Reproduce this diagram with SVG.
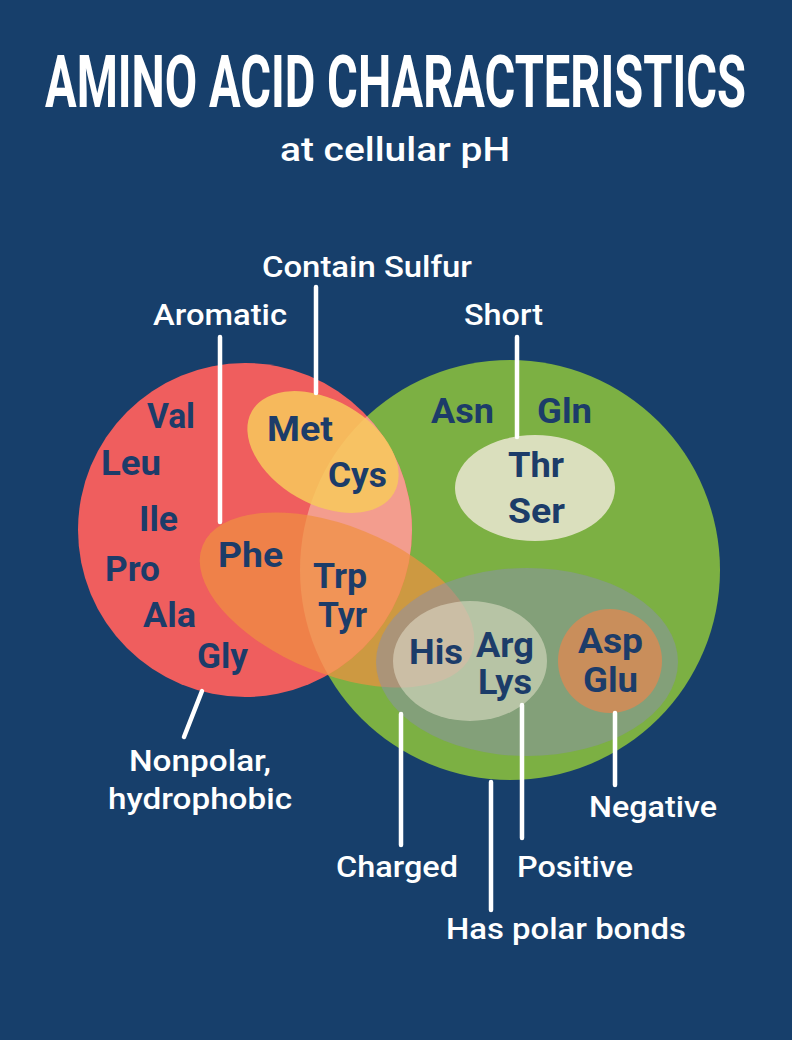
<svg xmlns="http://www.w3.org/2000/svg" width="792" height="1040" viewBox="0 0 792 1040">
<style>
.aa{font-family:Roboto,"Liberation Sans",sans-serif;font-weight:700;font-size:35px;fill:#1c3c69}
.lbl{font-family:Roboto,"Liberation Sans",sans-serif;font-weight:500;font-size:29px;fill:#ffffff}
.ttl{font-family:Roboto,"Liberation Sans",sans-serif;font-weight:700;font-size:73px;fill:#ffffff}
.sub{font-family:Roboto,"Liberation Sans",sans-serif;font-weight:500;font-size:34px;fill:#ffffff}
.con{stroke:#ffffff;stroke-width:4.5;stroke-linecap:round;fill:none}
</style>
<defs>
<clipPath id="clipRed"><circle cx="245" cy="530" r="167"/></clipPath>
</defs>
<rect width="792" height="1040" fill="#173f6b"/>
<text class="ttl" x="45" y="107" textLength="701" lengthAdjust="spacingAndGlyphs">AMINO ACID CHARACTERISTICS</text>
<text class="sub" x="280" y="161" textLength="230" lengthAdjust="spacingAndGlyphs">at cellular pH</text>

<g id="set-polar"><circle cx="510" cy="570" r="210" fill="#7cb043"/></g>
<g id="set-nonpolar"><circle cx="245" cy="530" r="167" fill="#ef5e5e"/>
<circle cx="510" cy="570" r="210" fill="#f39d8e" clip-path="url(#clipRed)"/></g>
<g id="set-sulfur"><ellipse cx="323" cy="452" rx="82" ry="52" transform="rotate(30 323 452)" fill="#f7c95c" fill-opacity="0.85"/></g>
<g id="set-aromatic"><ellipse cx="337" cy="600" rx="145" ry="74" transform="rotate(22 337 600)" fill="#f09040" fill-opacity="0.7"/></g>
<g id="set-short"><ellipse cx="535" cy="488" rx="80" ry="53" fill="#ebe8d2" fill-opacity="0.85"/></g>
<g id="set-charged"><ellipse cx="527" cy="662" rx="151" ry="94" fill="#8a8fb0" fill-opacity="0.5"/></g>
<g id="set-positive"><ellipse cx="470" cy="661" rx="77" ry="60" fill="#ebe8d2" fill-opacity="0.5"/></g>
<g id="set-negative"><circle cx="610" cy="661" r="52" fill="#c98e5b"/></g>

<g id="connectors">
<line class="con" x1="316" y1="287" x2="316" y2="393"/>
<line class="con" x1="220" y1="337" x2="220" y2="522"/>
<line class="con" x1="517" y1="337" x2="517" y2="437"/>
<line class="con" x1="202" y1="691" x2="184" y2="737"/>
<line class="con" x1="401" y1="714" x2="401" y2="845"/>
<line class="con" x1="522" y1="705" x2="522" y2="838"/>
<line class="con" x1="615" y1="713" x2="615" y2="785"/>
<line class="con" x1="491" y1="782" x2="491" y2="910"/>
</g>

<g id="amino-acids">
<g id="aa-val"><text class="aa" x="147" y="428" textLength="48" lengthAdjust="spacingAndGlyphs">Val</text></g>
<g id="aa-leu"><text class="aa" x="101" y="475" textLength="60" lengthAdjust="spacingAndGlyphs">Leu</text></g>
<g id="aa-ile"><text class="aa" x="139" y="531" textLength="39" lengthAdjust="spacingAndGlyphs">Ile</text></g>
<g id="aa-pro"><text class="aa" x="105" y="581" textLength="55" lengthAdjust="spacingAndGlyphs">Pro</text></g>
<g id="aa-ala"><text class="aa" x="143" y="627" textLength="53" lengthAdjust="spacingAndGlyphs">Ala</text></g>
<g id="aa-gly"><text class="aa" x="197" y="668" textLength="51" lengthAdjust="spacingAndGlyphs">Gly</text></g>
<g id="aa-met"><text class="aa" x="267" y="441" textLength="66" lengthAdjust="spacingAndGlyphs">Met</text></g>
<g id="aa-cys"><text class="aa" x="328" y="487" textLength="59" lengthAdjust="spacingAndGlyphs">Cys</text></g>
<g id="aa-phe"><text class="aa" x="218" y="567" textLength="65" lengthAdjust="spacingAndGlyphs">Phe</text></g>
<g id="aa-trp"><text class="aa" x="313" y="588" textLength="54" lengthAdjust="spacingAndGlyphs">Trp</text></g>
<g id="aa-tyr"><text class="aa" x="318" y="627" textLength="49" lengthAdjust="spacingAndGlyphs">Tyr</text></g>
<g id="aa-asn"><text class="aa" x="431" y="423" textLength="63" lengthAdjust="spacingAndGlyphs">Asn</text></g>
<g id="aa-gln"><text class="aa" x="537" y="423" textLength="55" lengthAdjust="spacingAndGlyphs">Gln</text></g>
<g id="aa-thr"><text class="aa" x="508" y="477" textLength="56" lengthAdjust="spacingAndGlyphs">Thr</text></g>
<g id="aa-ser"><text class="aa" x="508" y="523" textLength="57" lengthAdjust="spacingAndGlyphs">Ser</text></g>
<g id="aa-his"><text class="aa" x="409" y="664" textLength="54" lengthAdjust="spacingAndGlyphs">His</text></g>
<g id="aa-arg"><text class="aa" x="476" y="657" textLength="58" lengthAdjust="spacingAndGlyphs">Arg</text></g>
<g id="aa-lys"><text class="aa" x="478" y="694" textLength="54" lengthAdjust="spacingAndGlyphs">Lys</text></g>
<g id="aa-asp"><text class="aa" x="578" y="653" textLength="65" lengthAdjust="spacingAndGlyphs">Asp</text></g>
<g id="aa-glu"><text class="aa" x="583" y="692" textLength="55" lengthAdjust="spacingAndGlyphs">Glu</text></g>
</g>

<g id="labels">
<g id="lbl-sulfur"><text class="lbl" x="262" y="277" textLength="210" lengthAdjust="spacingAndGlyphs">Contain Sulfur</text></g>
<g id="lbl-aromatic"><text class="lbl" x="153" y="325" textLength="134" lengthAdjust="spacingAndGlyphs">Aromatic</text></g>
<g id="lbl-short"><text class="lbl" x="464" y="325" textLength="79" lengthAdjust="spacingAndGlyphs">Short</text></g>
<g id="lbl-nonpolar"><text class="lbl" x="129" y="771" textLength="142" lengthAdjust="spacingAndGlyphs">Nonpolar,</text>
<text class="lbl" x="108" y="809" textLength="184" lengthAdjust="spacingAndGlyphs">hydrophobic</text></g>
<g id="lbl-charged"><text class="lbl" x="336" y="877" textLength="122" lengthAdjust="spacingAndGlyphs">Charged</text></g>
<g id="lbl-positive"><text class="lbl" x="517" y="877" textLength="116" lengthAdjust="spacingAndGlyphs">Positive</text></g>
<g id="lbl-polar"><text class="lbl" x="446" y="939" textLength="240" lengthAdjust="spacingAndGlyphs">Has polar bonds</text></g>
<g id="lbl-negative"><text class="lbl" x="589" y="817" textLength="128" lengthAdjust="spacingAndGlyphs">Negative</text></g>
</g>
</svg>
